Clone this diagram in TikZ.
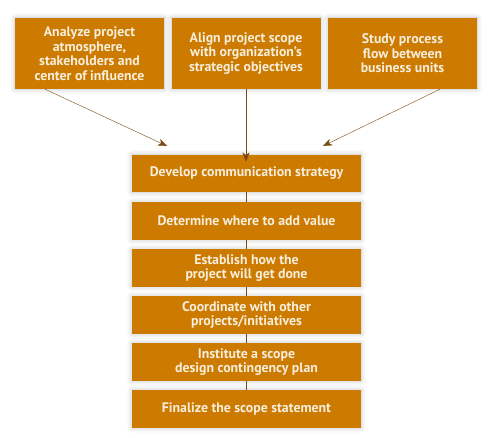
\documentclass[tikz,border=0pt]{standalone}
\usepackage{fontspec}
\setmainfont{PT Sans}
\usepackage{tikz}
\usetikzlibrary{arrows.meta,positioning,shadows.blur}

\definecolor{boxorange}{HTML}{CC7A00}
\definecolor{boxtext}{HTML}{F7EEDC}
\definecolor{linkbrown}{HTML}{7A4A12}

\begin{document}
\begin{tikzpicture}[
  x=1pt, y=-1pt,
  >=Stealth,
  every node/.style={font=\fontsize{13.8}{14.6}\selectfont\bfseries},
  task/.style={rectangle, fill=boxorange, text=boxtext, align=center,
    inner sep=0pt, blur shadow={shadow xshift=0pt, shadow yshift=0pt,
    shadow blur radius=5pt, shadow opacity=25}},
  top/.style={task, minimum width=149pt, minimum height=71pt},
  stepbox/.style={task, minimum width=229pt, minimum height=37.5pt},
  feed/.style={->, thin, color=linkbrown, >={Stealth[length=9pt,width=7pt,inset=2.5pt]}},
  chain/.style={thin, color=linkbrown},
]
\useasboundingbox (0,0) rectangle (488,438);

% Top row: inputs
\node[top] at (89.5, 53.5) (atmos) {Analyze project\\atmosphere,\\stakeholders and\\center of influence};
\node[top] at (246, 53.5) (align) {Align project scope\\with organization's\\strategic objectives};
\node[top] at (402.5, 53.5) (flow) {Study process\\flow between\\business units};

% Stack of steps
\node[stepbox] at (246.5, 173.5) (comm) {Develop communication strategy};
\node[stepbox] at (246.5, 221) (value) {Determine where to add value};
\node[stepbox] at (246.5, 268) (done) {Establish how the\\project will get done};
\node[stepbox] at (246.5, 315) (coord) {Coordinate with other\\projects/initiatives};
\node[stepbox] at (246.5, 362) (plan) {Institute a scope\\design contingency plan};
\node[stepbox] at (246.5, 409) (final) {Finalize the scope statement};

% arrow ends above the first step
\coordinate (inL) at (167, 146);
\coordinate (inR) at (323, 146);

% inputs -> first step
\draw[feed] ([xshift=-44.5pt]atmos.south) -- (inL);
\draw[feed] (align.south) -- ([yshift=-7pt]comm.north -| align.south);
\draw[feed] ([xshift=37.5pt]flow.south) -- (inR);

% links between steps
\draw[chain] (comm.south -| align.south) -- (value.north -| align.south);
\draw[chain] (value.south -| align.south) -- (done.north -| align.south);
\draw[chain] (done.south -| align.south) -- (coord.north -| align.south);
\draw[chain] (coord.south -| align.south) -- (plan.north -| align.south);
\draw[chain] (plan.south -| align.south) -- (final.north -| align.south);

\end{tikzpicture}
\end{document}
